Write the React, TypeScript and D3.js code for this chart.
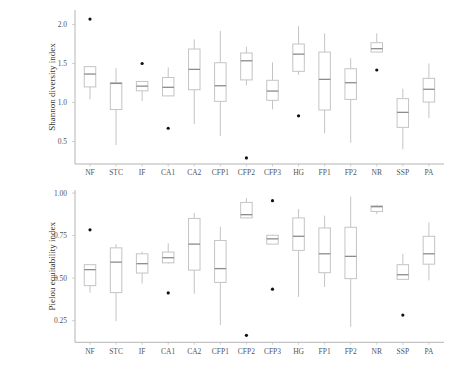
import React from "react";
import * as d3 from "d3";

const categories = ["NF", "STC", "IF", "CA1", "CA2", "CFP1", "CFP2", "CFP3", "HG", "FP1", "FP2", "NR", "SSP", "PA"];

// Shannon diversity index
const shLow = [1.04, 0.455, 1.02, 1.08, 0.724, 0.57, 1.22, 0.913, 1.356, 0.605, 0.485, 1.645, 0.40, 0.80];
const shQ1 = [1.20, 0.91, 1.15, 1.085, 1.164, 1.015, 1.29, 1.028, 1.40, 0.904, 1.04, 1.647, 0.682, 1.006];
const shMed = [1.365, 1.245, 1.21, 1.195, 1.425, 1.215, 1.535, 1.147, 1.62, 1.297, 1.254, 1.69, 0.874, 1.17];
const shQ3 = [1.46, 1.255, 1.27, 1.32, 1.686, 1.51, 1.635, 1.285, 1.75, 1.647, 1.433, 1.767, 1.05, 1.31];
const shHigh = [1.47, 1.44, 1.275, 1.45, 1.81, 1.92, 1.715, 1.515, 1.98, 1.887, 1.566, 1.887, 1.177, 1.50];
const shOutCat = ["NF", "IF", "CA1", "CFP2", "HG", "NR"];
const shOutVal = [2.07, 1.50, 0.67, 0.29, 0.83, 1.417];
const shTicks = [0.5, 1.0, 1.5, 2.0];

// Pielou equitability index
const piLow = [0.415, 0.247, 0.468, 0.585, 0.409, 0.224, 0.854, 0.70, 0.39, 0.448, 0.214, 0.877, 0.49, 0.487];
const piQ1 = [0.456, 0.415, 0.53, 0.59, 0.547, 0.475, 0.854, 0.70, 0.663, 0.532, 0.497, 0.892, 0.493, 0.582];
const piMed = [0.55, 0.594, 0.585, 0.62, 0.70, 0.556, 0.873, 0.731, 0.746, 0.643, 0.628, 0.92, 0.52, 0.643];
const piQ3 = [0.579, 0.678, 0.643, 0.653, 0.851, 0.721, 0.945, 0.752, 0.854, 0.795, 0.799, 0.925, 0.579, 0.746];
const piHigh = [0.58, 0.70, 0.657, 0.705, 0.883, 0.803, 0.97, 0.755, 0.906, 0.867, 0.98, 0.932, 0.643, 0.828];
const piOutCat = ["NF", "CA1", "CFP2", "CFP3", "CFP3", "SSP"];
const piOutVal = [0.784, 0.413, 0.164, 0.955, 0.435, 0.283];
const piTicks = [0.25, 0.5, 0.75, 1.0];

const FONT = "'Liberation Serif', 'DejaVu Serif', serif";
const BOX = "#c4c4c4";
const MED = "#8c8c8c";
const AXIS = "#b4b4b4";
const TXT = "#555";

type PanelProps = {
  top: number;
  bottom: number;
  domain: [number, number];
  low: number[];
  q1: number[];
  med: number[];
  q3: number[];
  high: number[];
  outCat: string[];
  outVal: number[];
  ticks: number[];
  fmt: (v: number) => string;
  label: string;
};

const xLeft = 75;
const xRight = 444;
const x = d3.scalePoint<string>().domain(categories).range([90, 428.9]);
const boxW = 11.5;

function Panel(p: PanelProps) {
  const y = d3.scaleLinear().domain(p.domain).range([p.bottom, p.top]);
  const mid = (p.top + p.bottom) / 2;
  return (
    <g>
      {/* axes */}
      <line x1={xLeft} x2={xLeft} y1={p.top} y2={p.bottom} stroke={AXIS} strokeWidth={1} />
      <line x1={xLeft} x2={xRight} y1={p.bottom} y2={p.bottom} stroke={AXIS} strokeWidth={1} />
      {p.ticks.map((t) => (
        <g key={t}>
          <line x1={xLeft - 3} x2={xLeft} y1={y(t)} y2={y(t)} stroke={AXIS} strokeWidth={0.6} />
          <text x={xLeft - 8} y={y(t)} dy="0.33em" textAnchor="end" fontSize={7.5} fill={TXT} fontFamily={FONT}>
            {p.fmt(t)}
          </text>
        </g>
      ))}
      {categories.map((c) => (
        <g key={c}>
          <line x1={x(c)!} x2={x(c)!} y1={p.bottom} y2={p.bottom + 2.5} stroke={AXIS} strokeWidth={0.6} />
          <text x={x(c)!} y={p.bottom + 9} dy="0.33em" textAnchor="middle" fontSize={7.5} fill={TXT} fontFamily={FONT}>
            {c}
          </text>
        </g>
      ))}
      <text
        transform={`translate(52,${mid}) rotate(-90)`}
        textAnchor="middle"
        dy="0.33em"
        fontSize={9}
        fill="#333"
        fontFamily={FONT}
      >
        {p.label}
      </text>
      {/* boxes */}
      {categories.map((c, i) => {
        const cx = x(c)!;
        return (
          <g key={c}>
            <line x1={cx} x2={cx} y1={y(p.low[i])} y2={y(p.q1[i])} stroke={BOX} strokeWidth={1} />
            <line x1={cx} x2={cx} y1={y(p.q3[i])} y2={y(p.high[i])} stroke={BOX} strokeWidth={1} />
            <rect
              x={cx - boxW / 2}
              y={y(p.q3[i])}
              width={boxW}
              height={Math.max(0.5, y(p.q1[i]) - y(p.q3[i]))}
              fill="white"
              stroke={BOX}
              strokeWidth={1}
            />
            <line x1={cx - boxW / 2} x2={cx + boxW / 2} y1={y(p.med[i])} y2={y(p.med[i])} stroke={MED} strokeWidth={1.3} />
          </g>
        );
      })}
      {p.outCat.map((c, i) => (
        <circle key={i} cx={x(c)!} cy={y(p.outVal[i])} r={1.6} fill="#111" />
      ))}
    </g>
  );
}

export default function App() {
  return (
    <div style={{ position: "absolute", left: 0, top: 0 }}>
      <svg width={474} height={366} style={{ display: "block", background: "white" }}>
        <Panel
          top={10}
          bottom={164}
          domain={[0.212, 2.186]}
          low={shLow}
          q1={shQ1}
          med={shMed}
          q3={shQ3}
          high={shHigh}
          outCat={shOutCat}
          outVal={shOutVal}
          ticks={shTicks}
          fmt={d3.format(".1f")}
          label="Shannon diversity index"
        />
        <Panel
          top={190}
          bottom={342.3}
          domain={[0.123, 1.018]}
          low={piLow}
          q1={piQ1}
          med={piMed}
          q3={piQ3}
          high={piHigh}
          outCat={piOutCat}
          outVal={piOutVal}
          ticks={piTicks}
          fmt={d3.format(".2f")}
          label="Pielou equitability index"
        />
      </svg>
    </div>
  );
}
